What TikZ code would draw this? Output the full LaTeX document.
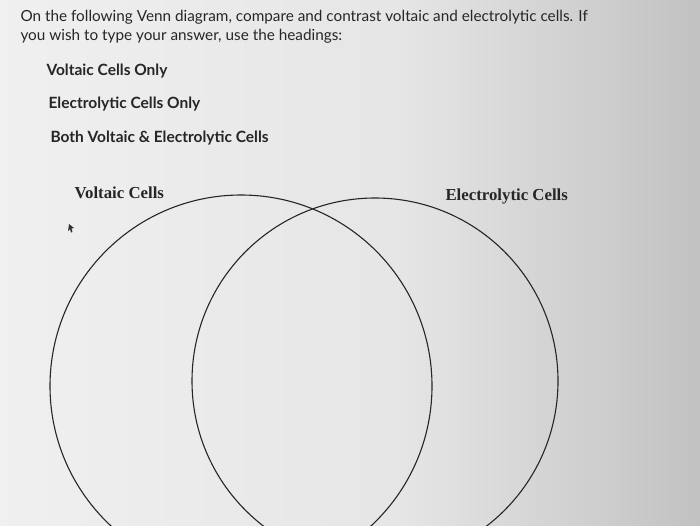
\documentclass[tikz,border=0pt]{standalone}
\usepackage{fontspec}
\setmainfont{Lato}
\newfontfamily\tnr{Liberation Serif}
\begin{document}
\begin{tikzpicture}[x=1pt,y=-1pt,
  head/.style={anchor=west,font=\fontsize{15.3}{17}\selectfont,text=black!85},
  item/.style={anchor=west,font=\fontsize{15.5}{17}\selectfont\bfseries,text=black!85},
  clabel/.style={anchor=west,font=\tnr\fontsize{16.8}{18}\selectfont\bfseries,text=black!85},
  venn/.style={draw=black!85,line width=1.1pt}]
\useasboundingbox (0,0) rectangle (700,525);
\shade[left color=white!94!black,right color=white!90!black] (0,0) rectangle (400,525);
\shade[left color=white!90!black,right color=white!76!black] (399.5,0) rectangle (700,525);
\node[head] (h1) at (17,17) {On the following Venn diagram, compare and contrast voltaic and electrolytic cells. If};
\node[head] (h2) at (17,36) {you wish to type your answer, use the headings:};
\node[item] (i1) at (43,71) {Voltaic Cells Only};
\node[item] (i2) at (45,104) {Electrolytic Cells Only};
\node[item] (i3) at (47,138) {Both Voltaic \& Electrolytic Cells};
\node[clabel] (lv) at (71,193) {Voltaic Cells};
\node[clabel] (le) at (442,196) {Electrolytic Cells};
\begin{scope}
\clip (0,0) rectangle (700,525);
\draw[venn] (241,386) circle[radius=191];
\draw[venn] (375,381) circle[radius=183];
\end{scope}
\fill[black!80] (69,224) -- (74,228) -- (71.5,228.5) -- (72.5,232) -- (71,232.5) -- (70,229) -- (68,231) -- cycle;
\end{tikzpicture}
\end{document}
